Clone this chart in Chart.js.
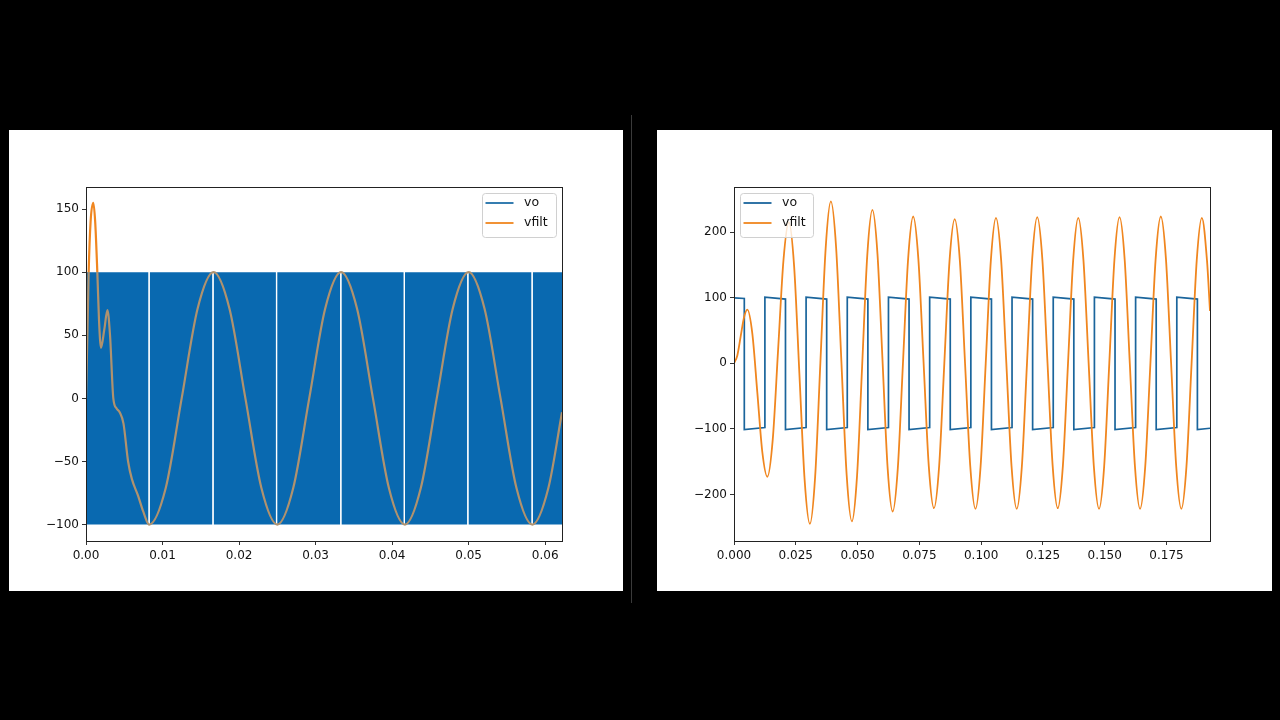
<!DOCTYPE html>
<html>
<head>
<meta charset="utf-8">
<script src="https://cdn.jsdelivr.net/npm/chart.js@4.4.1/dist/chart.umd.min.js"></script>
<style>
  html, body { margin: 0; padding: 0; background: #000; }
  body { width: 1280px; height: 720px; position: relative; overflow: hidden; }
  .panel { position: absolute; top: 130px; height: 461px; background: #fff; }
  .panel canvas { display: block; }
  #left { left: 9px; width: 614px; }
  #right { left: 657px; width: 615px; }
  .sep { position: absolute; left: 631px; top: 115px; width: 1px; height: 488px; background: #3a3a3a; }
</style>
</head>
<body>
<div class="panel" id="left"><canvas id="chartL" width="614" height="461"></canvas></div>
<div class="sep"></div>
<div class="panel" id="right"><canvas id="chartR" width="615" height="461"></canvas></div>
<script>
// ---- left plot: PWM output vo (dense switching, drawn as a band) + filtered vfilt
const L_XMAX = 0.0622;
const L_YMIN = -113;
const L_YMAX = 167.5;
const L_X_TICKS = [0, 0.01, 0.02, 0.03, 0.04, 0.05, 0.06];
const L_X_LABELS = ['0.00', '0.01', '0.02', '0.03', '0.04', '0.05', '0.06'];
const L_Y_TICKS = [-100, -50, 0, 50, 100, 150];
const L_Y_LABELS = ['\u2212100', '\u221250', '0', '50', '100', '150'];

// vo switches between these levels; white slivers where it stops switching
const L_VO_HIGH = 100;
const L_VO_LOW = -100;
const L_VO_GAPS = [0.00825, 0.0166, 0.0249, 0.0333, 0.0416, 0.0499, 0.0583];

const L_VFILT_T = [
  0, 0.0002, 0.00035, 0.0006, 0.00095, 0.0012, 0.00148, 0.0017, 0.00196,
  0.0024, 0.0028, 0.00314, 0.00357, 0.004, 0.0044, 0.0049, 0.0055, 0.006,
  0.0068, 0.0075, 0.00825,
  0.01042, 0.0125, 0.01458, 0.01667, 0.01875, 0.02083, 0.02292, 0.025,
  0.02708, 0.02917, 0.03125, 0.03333, 0.03542, 0.0375, 0.03958, 0.04167,
  0.04375, 0.04583, 0.04792, 0.05, 0.05208, 0.05417, 0.05625, 0.05833,
  0.06042, 0.0622
];
const L_VFILT_V = [
  0, 55, 100, 140, 155, 140, 100, 62, 40,
  55, 70, 50, 0, -8, -11, -20, -50, -64,
  -77, -90, -100,
  -71, 0, 71, 100, 71, 0, -71, -100,
  -71, 0, 71, 100, 71, 0, -71, -100,
  -71, 0, 71, 100, 71, 0, -71, -100,
  -71, -11
];

// ---- right plot: square wave vo + resonant vfilt
const R_XMAX = 0.1926;
const R_YMIN = -271;
const R_YMAX = 269;
const R_X_TICKS = [0, 0.025, 0.05, 0.075, 0.1, 0.125, 0.15, 0.175];
const R_X_LABELS = ['0.000', '0.025', '0.050', '0.075', '0.100', '0.125', '0.150', '0.175'];
const R_Y_TICKS = [-200, -100, 0, 100, 200];
const R_Y_LABELS = ['\u2212200', '\u2212100', '0', '100', '200'];

const R_VO_T = [
  0, 0.00417, 0.00417, 0.0125, 0.0125, 0.02083, 0.02083, 0.02917, 0.02917,
  0.0375, 0.0375, 0.04583, 0.04583, 0.05417, 0.05417, 0.0625, 0.0625,
  0.07083, 0.07083, 0.07917, 0.07917, 0.0875, 0.0875, 0.09583, 0.09583,
  0.10417, 0.10417, 0.1125, 0.1125, 0.12083, 0.12083, 0.12917, 0.12917,
  0.1375, 0.1375, 0.14583, 0.14583, 0.15417, 0.15417, 0.1625, 0.1625,
  0.17083, 0.17083, 0.17917, 0.17917, 0.1875, 0.1875, 0.1926
];
const R_VO_V = [
  100, 99, -101, -98, 101, 98, -101, -98, 101,
  98, -101, -98, 101, 98, -101, -98, 101,
  98, -101, -98, 101, 98, -101, -98, 101,
  98, -101, -98, 101, 98, -101, -98, 101,
  98, -101, -98, 101, 98, -101, -98, 101,
  98, -101, -98, 101, 98, -101, -99
];

const R_VFILT_T = [
  0, 0.00135, 0.0027, 0.00405, 0.0054,
  0.00743, 0.00945, 0.01148, 0.0135,
  0.01568, 0.01785, 0.02003, 0.0222,
  0.02433, 0.02645, 0.02858, 0.0307,
  0.03283, 0.03495, 0.03708, 0.0392,
  0.04133, 0.04345, 0.04558, 0.0477,
  0.04978, 0.05185, 0.05393, 0.056,
  0.05805, 0.0601, 0.06215, 0.0642,
  0.06628, 0.06835, 0.07043, 0.0725,
  0.0746, 0.0767, 0.0788, 0.0809,
  0.083, 0.0851, 0.0872, 0.0893,
  0.0914, 0.0935, 0.0956, 0.0977,
  0.09978, 0.10185, 0.10393, 0.106,
  0.1081, 0.1102, 0.1123, 0.1144,
  0.11648, 0.11855, 0.12063, 0.1227,
  0.12478, 0.12685, 0.12893, 0.131,
  0.13308, 0.13515, 0.13723, 0.1393,
  0.1414, 0.1435, 0.1456, 0.1477,
  0.14978, 0.15185, 0.15393, 0.156,
  0.15808, 0.16015, 0.16223, 0.1643,
  0.1664, 0.1685, 0.1706, 0.1727,
  0.17478, 0.17685, 0.17893, 0.181,
  0.18308, 0.18515, 0.18723, 0.1893,
  0.19138, 0.1926
];
const R_VFILT_V = [
  0, 12, 41, 70, 82,
  45, -45, -136, -173,
  -116, 21, 158, 215,
  148, -15, -178, -245,
  -173, 1, 175, 247,
  176, 3, -170, -241,
  -172, -4, 165, 234,
  167, 4, -159, -226,
  -160, -1, 158, 224,
  159, 2, -156, -221,
  -157, 0, 156, 220,
  156, -1, -157, -222,
  -157, 0, 157, 222,
  157, 0, -157, -222,
  -157, 0, 158, 223,
  158, 1, -156, -221,
  -156, 0, 157, 222,
  157, 0, -157, -222,
  -157, 0, 158, 223,
  158, 0, -157, -222,
  -157, 1, 159, 224,
  159, 1, -157, -222,
  -157, 0, 157, 222,
  157, 80
];

const BLUE_BAND = '#0969b0';
const BLUE_LINE = '#1a659c';
const ORANGE = '#f0861f';
const ORANGE_ON_BLUE = '#b0926e';

Chart.defaults.font.family = "'DejaVu Sans', sans-serif";
Chart.defaults.font.size = 12;
Chart.defaults.color = '#111';

const zip = (ts, vs) => ts.map((t, i) => ({ x: t, y: vs[i] }));

function bandPoints(gaps, level, xmax) {
  const half = 0.00008;
  const pts = [{ x: 0, y: level }];
  gaps.forEach(g => {
    pts.push({ x: g - half, y: level }, { x: g, y: null }, { x: g + half, y: level });
  });
  pts.push({ x: xmax, y: level });
  return pts;
}

// axes frame on all four sides + matplotlib-like legend inside the axes
const frameAndLegend = {
  id: 'frameAndLegend',
  afterDatasetsDraw(chart, args, opts) {
    const { ctx, chartArea: a } = chart;
    ctx.save();
    ctx.strokeStyle = '#222';
    ctx.lineWidth = 1;
    ctx.strokeRect(Math.round(a.left) + 0.5, Math.round(a.top) + 0.5,
      Math.round(a.right - a.left), Math.round(a.bottom - a.top));

    const w = opts.width, h = 44;
    const x = opts.side === 'right' ? a.right - opts.offset - w : a.left + opts.offset;
    const y = a.top + opts.offset;
    ctx.beginPath();
    ctx.roundRect(Math.round(x) + 0.5, Math.round(y) + 0.5, w, h, 3);
    ctx.fillStyle = 'rgba(255,255,255,0.8)';
    ctx.fill();
    ctx.strokeStyle = '#d0d0d0';
    ctx.stroke();

    ctx.font = "12.5px 'DejaVu Sans', sans-serif";
    ctx.textBaseline = 'middle';
    chart.data.datasets.filter(d => d.label).forEach((d, i) => {
      const cy = y + 10 + i * 20;
      ctx.beginPath();
      ctx.moveTo(x + 3.5, cy);
      ctx.lineTo(x + 31.5, cy);
      ctx.strokeStyle = d.legendColor || d.borderColor;
      ctx.lineWidth = 1.8;
      ctx.stroke();
      ctx.fillStyle = '#111';
      ctx.fillText(d.label, x + 42, cy);
    });
    ctx.restore();
  }
};

function axes(xmax, xTicks, xLabels, ymin, ymax, yTicks, yLabels) {
  const grid = { display: true, drawOnChartArea: false, drawTicks: true, tickLength: 4, color: '#333' };
  return {
    x: {
      type: 'linear', min: 0, max: xmax,
      afterBuildTicks: s => { s.ticks = xTicks.map(v => ({ value: v })); },
      afterFit: s => { s.height = 50; },
      ticks: { callback: (v, i) => xLabels[i], padding: 4, maxRotation: 0, autoSkip: false },
      grid, border: { display: false }
    },
    y: {
      type: 'linear', min: ymin, max: ymax,
      afterBuildTicks: s => { s.ticks = yTicks.map(v => ({ value: v })); },
      afterFit: s => { s.width = 77; },
      ticks: { callback: (v, i) => yLabels[i], padding: 3, autoSkip: false },
      grid, border: { display: false }
    }
  };
}

new Chart(document.getElementById('chartL'), {
  type: 'line',
  data: {
    datasets: [
      {
        label: 'vo',
        data: bandPoints(L_VO_GAPS, L_VO_HIGH, L_XMAX),
        borderColor: 'rgba(0,0,0,0)',
        backgroundColor: BLUE_BAND,
        legendColor: '#1f6fa8',
        fill: { value: L_VO_LOW },
        spanGaps: false,
        pointRadius: 0,
        order: 2
      },
      {
        label: 'vfilt',
        data: zip(L_VFILT_T, L_VFILT_V),
        borderColor: ORANGE,
        borderWidth: 2.2,
        cubicInterpolationMode: 'monotone',
        segment: {
          borderColor: c => Math.max(c.p0.parsed.y, c.p1.parsed.y) > L_VO_HIGH ? ORANGE : ORANGE_ON_BLUE
        },
        pointRadius: 0,
        fill: false,
        order: 1
      }
    ]
  },
  options: {
    responsive: false,
    animation: false,
    events: [],
    layout: { padding: { top: 57, right: 61, left: 0, bottom: 0 } },
    scales: axes(L_XMAX, L_X_TICKS, L_X_LABELS, L_YMIN, L_YMAX, L_Y_TICKS, L_Y_LABELS),
    plugins: {
      legend: { display: false },
      tooltip: { enabled: false },
      frameAndLegend: { side: 'right', offset: 6, width: 74 }
    }
  },
  plugins: [frameAndLegend]
});

new Chart(document.getElementById('chartR'), {
  type: 'line',
  data: {
    datasets: [
      {
        label: 'vo',
        data: zip(R_VO_T, R_VO_V),
        borderColor: BLUE_LINE,
        borderWidth: 1.7,
        pointRadius: 0,
        fill: false,
        order: 2
      },
      {
        label: 'vfilt',
        data: zip(R_VFILT_T, R_VFILT_V),
        borderColor: ORANGE,
        borderWidth: 1.8,
        cubicInterpolationMode: 'monotone',
        pointRadius: 0,
        fill: false,
        order: 1
      }
    ]
  },
  options: {
    responsive: false,
    animation: false,
    events: [],
    layout: { padding: { top: 57, right: 62, left: 0, bottom: 0 } },
    scales: axes(R_XMAX, R_X_TICKS, R_X_LABELS, R_YMIN, R_YMAX, R_Y_TICKS, R_Y_LABELS),
    plugins: {
      legend: { display: false },
      tooltip: { enabled: false },
      frameAndLegend: { side: 'left', offset: 6, width: 73 }
    }
  },
  plugins: [frameAndLegend]
});
</script>
</body>
</html>
